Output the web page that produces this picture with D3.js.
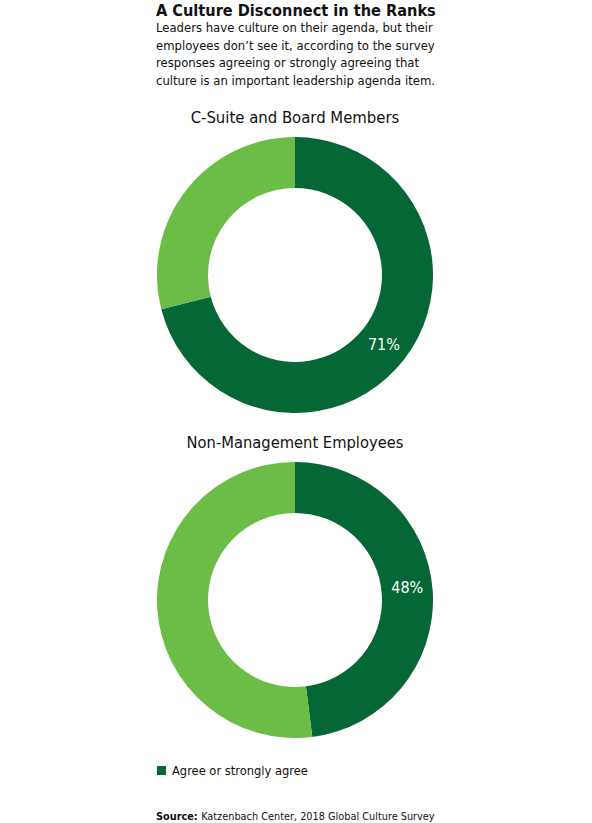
<!DOCTYPE html>
<html>
<head>
<meta charset="utf-8">
<script src="https://cdn.jsdelivr.net/npm/d3@7"></script>
<style>
  body { margin: 0; background: #fff; }
  text { font-family: "DejaVu Sans Condensed", Roboto, sans-serif; }
</style>
</head>
<body>
<svg id="chart"></svg>
<script>
const width = 592
const height = 823

// data
const groups = ["C-Suite and Board Members", "Non-Management Employees"]
const agreeShare = [71, 48]
const legendLabels = ["Agree or strongly agree"]
const titleText = "A Culture Disconnect in the Ranks"
const subtitleLines = [
    "Leaders have culture on their agenda, but their",
    "employees don\u2019t see it, according to the survey",
    "responses agreeing or strongly agreeing that",
    "culture is an important leadership agenda item."
]
const sourceText = "Katzenbach Center, 2018 Global Culture Survey"

const COLORS = { agree: "#056636", other: "#6bbd47", text: "#111" }
const DONUT = { OUTER: 138, INNER: 87, CX: 295 }
const centersY = [275, 600]
const headY = [123, 448]
const labelNudge = [0, -6]

const svg = d3.select("#chart")
    .attr("width", width)
    .attr("height", height)

// shrink or grow a text so it spans the wanted width
const fitWidth = (sel, w) => {
    const cur = sel.node().getComputedTextLength()
    const fs = parseFloat(sel.attr("font-size"))
    sel.attr("font-size", fs * w / cur)
    return fs * w / cur
}

const title = svg.append("text")
    .attr("x", 156).attr("y", 16)
    .attr("font-size", 18)
    .attr("font-weight", "bold")
    .attr("fill", COLORS.text)
    .text(titleText)
fitWidth(title, 280)

const sub = svg.append("g")
const subLines = sub.selectAll("text")
    .data(subtitleLines)
    .join("text")
    .attr("x", 156)
    .attr("y", (d, i) => 32 + i * 17.5)
    .attr("font-size", 14)
    .attr("fill", COLORS.text)
    .text(d => d)
const subSize = fitWidth(d3.select(subLines.nodes()[0]), 277)
subLines.attr("font-size", subSize)

const pie = d3.pie().sort(null).value(d => d)
const arc = d3.arc().innerRadius(DONUT.INNER).outerRadius(DONUT.OUTER)

groups.forEach((name, i) => {
    const g = svg.append("g")
        .attr("transform", `translate(${DONUT.CX},${centersY[i]})`)

    const head = svg.append("text")
        .attr("x", DONUT.CX).attr("y", headY[i])
        .attr("text-anchor", "middle")
        .attr("font-size", 16)
        .attr("fill", COLORS.text)
        .text(name)
    fitWidth(head, i === 0 ? 209 : 217)

    const slices = pie([agreeShare[i], 100 - agreeShare[i]])
    g.selectAll("path")
        .data(slices)
        .join("path")
        .attr("d", arc)
        .attr("fill", (d, j) => j === 0 ? COLORS.agree : COLORS.other)

    const [lx, ly] = arc.centroid(slices[0])
    g.append("text")
        .attr("x", lx)
        .attr("y", ly + labelNudge[i])
        .attr("text-anchor", "middle")
        .attr("dy", "0.35em")
        .attr("font-size", 16)
        .attr("fill", "#fff")
        .text(`${agreeShare[i]}%`)
})

const legend = svg.append("g").attr("transform", "translate(157,766)")
legend.selectAll("rect")
    .data(legendLabels)
    .join("rect")
    .attr("width", 9).attr("height", 9)
    .attr("fill", COLORS.agree)
const legendText = legend.append("text")
    .attr("x", 15).attr("y", 9)
    .attr("font-size", 14)
    .attr("fill", COLORS.text)
    .text(legendLabels[0])
fitWidth(legendText, 136)

const src = svg.append("text")
    .attr("x", 156).attr("y", 820)
    .attr("font-size", 12)
    .attr("fill", COLORS.text)
src.append("tspan").attr("font-weight", "bold").text("Source: ")
src.append("tspan").text(sourceText)
fitWidth(src, 279)
</script>
</body>
</html>
